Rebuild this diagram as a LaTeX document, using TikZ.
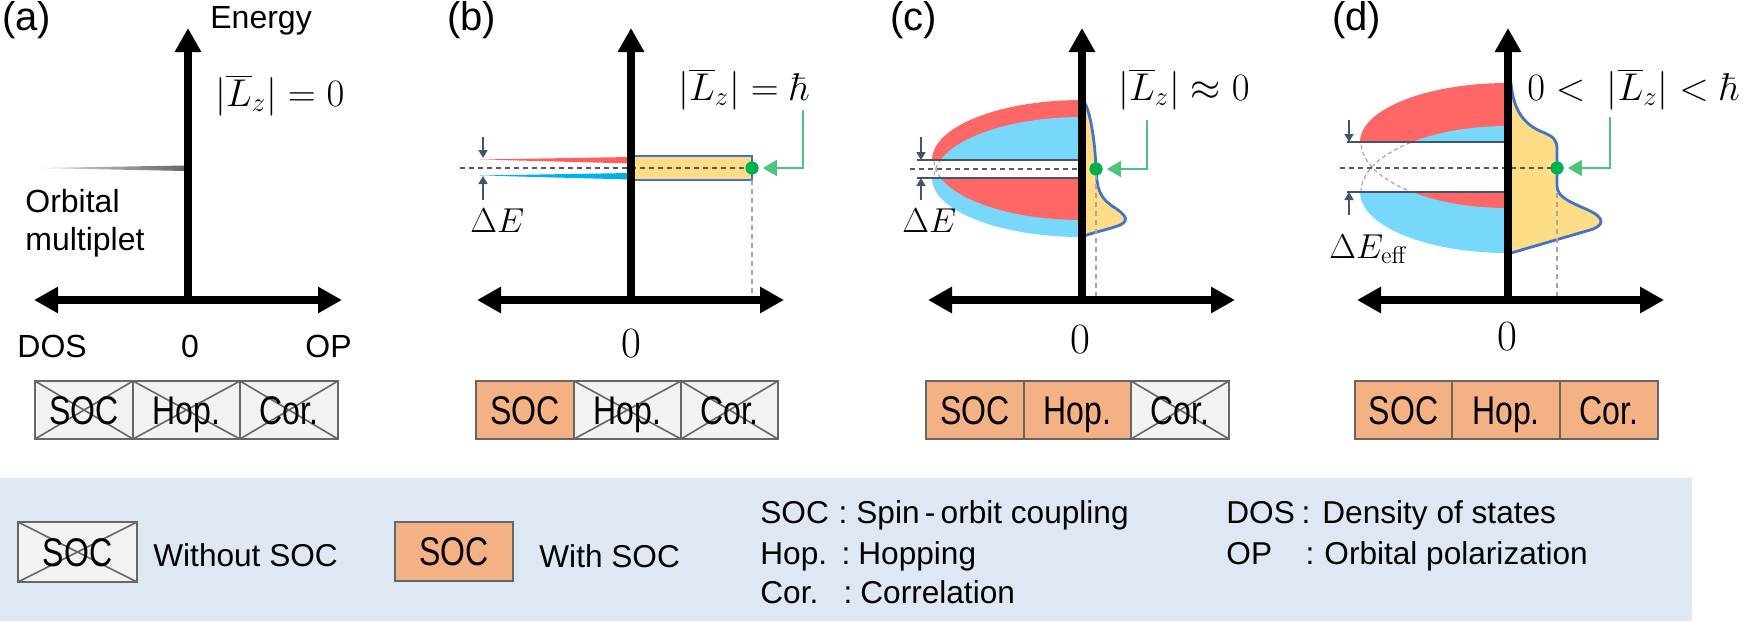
\documentclass[tikz,border=0pt]{standalone}
\usepackage[no-math]{fontspec}
\setmainfont{Liberation Sans}
\usetikzlibrary{arrows.meta}
\definecolor{redband}{HTML}{FF6767}
\definecolor{blueband}{HTML}{77D8FC}
\definecolor{redw}{HTML}{FF5F5F}
\definecolor{bluew}{HTML}{00B0F0}
\definecolor{yel}{HTML}{FFDD87}
\definecolor{outl}{HTML}{4472C4}
\definecolor{gdot}{HTML}{00B050}
\definecolor{garr}{HTML}{4CC47C}
\definecolor{slate}{HTML}{44546A}
\definecolor{socor}{HTML}{F4B183}
\definecolor{offg}{HTML}{F2F2F2}
\definecolor{bord}{HTML}{666666}
\definecolor{legbg}{HTML}{DEE8F4}
\definecolor{dgray}{HTML}{595959}
\definecolor{lgray}{HTML}{A6A6A6}
\newcommand\bx[1]{\scalebox{0.8}[1]{#1}}
\newcommand\mscale[1]{\scalebox{1.12}{#1}}
\tikzset{
  axisline/.style={line width=3.7pt,{Triangle[length=12pt,width=12.5pt]}-{Triangle[length=12pt,width=12.5pt]}},
  axisup/.style={line width=3.7pt,-{Triangle[length=12pt,width=12.5pt]}},
  txt/.style={inner sep=0pt,font=\fontsize{16}{19}\selectfont},
  legtxt/.style={inner sep=0pt,font=\fontsize{15.8}{19}\selectfont},
  plabel/.style={inner sep=0pt,font=\fontsize{20}{24}\selectfont,anchor=base west},
  mth/.style={inner sep=0pt,font=\fontsize{18}{22}\selectfont,anchor=base west},
  cell/.style={draw=bord,line width=1pt,minimum height=29pt,inner sep=0pt,
     text height=14.3pt,text depth=0pt,font=\fontsize{20}{22}\selectfont},
  oncell/.style={cell,fill=socor},
  offcell/.style={cell,fill=offg,path picture={\draw[bord,line width=0.8pt]
     (path picture bounding box.north west) -- (path picture bounding box.south east)
     (path picture bounding box.south west) -- (path picture bounding box.north east);}},
  ctr/.style={dgray,line width=0.75pt,dash pattern=on 2.5pt off 2pt},
  vdash/.style={lgray,line width=0.75pt,dash pattern=on 2.5pt off 2pt},
  gdotst/.style={circle,fill=gdot,inner sep=0pt,minimum size=6.5pt},
  garrow/.style={garr,line width=1pt,-{Triangle[length=7pt,width=8pt]},shorten >=2pt},
  darrow/.style={slate,line width=0.8pt,-{Triangle[length=4pt,width=4.5pt]}},
  lvl/.style={slate,line width=0.9pt},
  curve/.style={outl,line width=1.4pt},
  curvedash/.style={lgray,line width=0.6pt,dash pattern=on 2pt off 1.5pt}
}
\begin{document}
\begin{tikzpicture}[x=0.5pt,y=-0.5pt]
\useasboundingbox (0,0) rectangle (1749,621);

% ---------------- legend background
\fill[legbg] (0,478) rectangle (1692,621);

% ---------------- panel (a)
\node[plabel] (la) at (2,30) {(a)};
\node[txt,anchor=base west] (energy) at (210,28) {Energy};
\shade[left color=black!12,right color=black!60] (37,168) -- (186,165.5) -- (186,171) -- cycle;
\node[txt,anchor=base west] (orb1) at (25,212) {Orbital};
\node[txt,anchor=base west] (orb2) at (25,250) {multiplet};
\node[mth] (Lza) at (215,106) {\mscale{$|\overline{L}_z| = 0$}};
\draw[axisline] (34,300) -- (342,300);
\draw[axisup] (188,303) -- (188,28);
\node[txt,anchor=base west] (dos) at (17,357) {DOS};
\node[txt,anchor=base] (zeroa) at (190,357) {0};
\node[txt,anchor=base west] (op) at (305,357) {OP};
\node[offcell,minimum width=49pt] (a1) at (84,410) {\bx{SOC}};
\node[offcell,minimum width=53.5pt] (a2) at (186.5,410) {\bx{Hop.}};
\node[offcell,minimum width=49pt] (a3) at (289,410) {\bx{Cor.}};

% ---------------- panel (b)
\node[plabel] (lb) at (447,30) {(b)};
\fill[redw] (480,159.5) -- (631,157) -- (631,163.5) -- cycle;
\fill[bluew] (480,175.5) -- (631,173) -- (631,179.5) -- cycle;
\filldraw[fill=yel,draw=outl,line width=0.7pt] (631,156) rectangle (752,180);
\node[gdotst] (dotb) at (752,168) {};
\draw[ctr] (460,168) -- (dotb.center);
\draw[vdash] (752,180) -- (752,298);
\draw[axisline] (477,300) -- (784,300);
\draw[axisup] (631,303) -- (631,28);
\node[gdotst] at (dotb) {};
\coordinate (gb) at (803,110);
\draw[garrow] (gb) |- (dotb.east);
\draw[darrow] (483,137) -- (483,158);
\draw[darrow] (483,200) -- (483,176);
\node[mth,anchor=base west] (dEb) at (470,232) {$\Delta E$};
\node[mth] (Lzb) at (678,100) {\mscale{$|\overline{L}_z| = \hbar$}};
\node[mth,anchor=base] (zerob) at (631,357) {\scalebox{1.25}{$0$}};
\node[oncell,minimum width=49pt] (b1) at (525,410) {\bx{SOC}};
\node[offcell,minimum width=53.5pt] (b2) at (627.5,410) {\bx{Hop.}};
\node[offcell,minimum width=48.5pt] (b3) at (729.5,410) {\bx{Cor.}};

% ---------------- panel (c)
\node[plabel] (lc) at (890,30) {(c)};
\begin{scope}
  \clip (900,60) rectangle (1082,160);
  \fill[redband] (1082,160) ellipse [x radius=75pt,y radius=30pt];
  \fill[blueband] (1082,178) ellipse [x radius=74pt,y radius=30.5pt];
\end{scope}
\begin{scope}
  \clip (900,178) rectangle (1082,270);
  \fill[blueband] (1082,178) ellipse [x radius=75pt,y radius=29.5pt];
  \fill[redband] (1082,160) ellipse [x radius=74pt,y radius=30pt];
\end{scope}
\begin{scope}
  \clip (900,160) rectangle (1082,178);
  \draw[curvedash] (1082,178) ellipse [x radius=74pt,y radius=30.5pt];
  \draw[curvedash] (1082,160) ellipse [x radius=74pt,y radius=30pt];
\end{scope}
\fill[yel] (1082,102) .. controls (1090,110) and (1095,140) .. (1096,169)
   .. controls (1097,190) and (1100,197) .. (1112,206)
   .. controls (1122,212) and (1132,220) .. (1120,225)
   .. controls (1110,229) and (1095,232) .. (1082,236) -- cycle;
\draw[curve] (1084,102) .. controls (1090,110) and (1095,140) .. (1096,169)
   .. controls (1097,190) and (1100,197) .. (1112,206)
   .. controls (1122,212) and (1132,220) .. (1120,225)
   .. controls (1110,229) and (1095,232) .. (1084,236);
\draw[lvl] (917,160) -- (1082,160);
\draw[lvl] (917,178) -- (1082,178);
\node[gdotst] (dotc) at (1096,169) {};
\draw[ctr] (910,169) -- (dotc.center);
\draw[vdash] (1096,175) -- (1096,298);
\draw[axisline] (928,300) -- (1235,300);
\draw[axisup] (1082,303) -- (1082,28);
\node[gdotst] at (dotc) {};
\coordinate (gc) at (1147,120);
\draw[garrow] (gc) |- (dotc.east);
\draw[darrow] (921,137) -- (921,160);
\draw[darrow] (921,200) -- (921,178);
\node[mth,anchor=base west] (dEc) at (902,232) {$\Delta E$};
\node[mth] (Lzc) at (1118,100) {\mscale{$|\overline{L}_z| \approx 0$}};
\node[mth,anchor=base] (zeroc) at (1080,353) {\scalebox{1.25}{$0$}};
\node[oncell,minimum width=49pt] (c1) at (975,410) {\bx{SOC}};
\node[oncell,minimum width=53.5pt] (c2) at (1077.5,410) {\bx{Hop.}};
\node[offcell,minimum width=49pt] (c3) at (1180,410) {\bx{Cor.}};

% ---------------- panel (d)
\node[plabel] (ld) at (1332,30) {(d)};
\begin{scope}
  \clip (1330,40) rectangle (1508,142);
  \fill[redband] (1508,142) ellipse [x radius=74pt,y radius=29.5pt];
  \fill[blueband] (1508,192) ellipse [x radius=73.5pt,y radius=33pt];
\end{scope}
\begin{scope}
  \clip (1330,192) rectangle (1508,290);
  \fill[blueband] (1508,192) ellipse [x radius=74pt,y radius=30.5pt];
  \fill[redband] (1508,142) ellipse [x radius=73.5pt,y radius=33pt];
\end{scope}
\begin{scope}
  \clip (1330,142) rectangle (1508,192);
  \draw[curvedash] (1508,192) ellipse [x radius=73.5pt,y radius=33pt];
  \draw[curvedash] (1508,142) ellipse [x radius=73.5pt,y radius=33pt];
\end{scope}
\fill[yel] (1508,83) .. controls (1513,105) and (1520,122) .. (1540,131)
   .. controls (1555,137) and (1557,140) .. (1557,150) -- (1557,186)
   .. controls (1557,197) and (1570,202) .. (1588,210)
   .. controls (1606,218) and (1604,226) .. (1590,230) -- (1508,254) -- cycle;
\draw[curve] (1511,83) .. controls (1513,105) and (1520,122) .. (1540,131)
   .. controls (1555,137) and (1557,140) .. (1557,150) -- (1557,186)
   .. controls (1557,197) and (1570,202) .. (1588,210)
   .. controls (1606,218) and (1604,226) .. (1590,230) -- (1511,253);
\draw[lvl] (1347,142) -- (1508,142);
\draw[lvl] (1347,192) -- (1508,192);
\node[gdotst] (dotd) at (1557,168) {};
\draw[ctr] (1340,168) -- (dotd.center);
\draw[vdash] (1557,193) -- (1557,298);
\draw[axisline] (1357,300) -- (1664,300);
\draw[axisup] (1508,303) -- (1508,28);
\node[gdotst] at (dotd) {};
\coordinate (gd) at (1610,117);
\draw[garrow] (gd) |- (dotd.east);
\draw[darrow] (1349,120) -- (1349,142);
\draw[darrow] (1349,215) -- (1349,192);
\node[mth,anchor=base west] (dEd) at (1329,258) {$\Delta E_{\mathrm{eff}}$};
\node[mth] (Lzd) at (1527,100) {\mscale{$0 <\; |\overline{L}_z| < \hbar$}};
\node[mth,anchor=base] (zerod) at (1507,350) {\scalebox{1.25}{$0$}};
\node[oncell,minimum width=48.5pt] (d1) at (1403.5,410) {\bx{SOC}};
\node[oncell,minimum width=54pt] (d2) at (1506,410) {\bx{Hop.}};
\node[oncell,minimum width=49pt] (d3) at (1609,410) {\bx{Cor.}};

% ---------------- legend
\node[offcell,minimum width=59.5pt,minimum height=30pt] (lg1) at (77.5,552) {\bx{SOC}};
\node[legtxt,anchor=base west] (lg1t) at (153,566) {Without SOC};
\node[oncell,minimum width=59pt,minimum height=29.5pt] (lg2) at (454,551.5) {\bx{SOC}};
\node[legtxt,anchor=base west] (lg2t) at (539,567) {With SOC};

\node[legtxt,anchor=base west] (k1) at (760,523) {SOC};
\node[legtxt,anchor=base] (k1c) at (843,523) {:};
\node[legtxt,anchor=base west] (k1d) at (856,523) {Spin\,-\,orbit coupling};
\node[legtxt,anchor=base west] (k2) at (760,564) {Hop.};
\node[legtxt,anchor=base] (k2c) at (846,564) {:};
\node[legtxt,anchor=base west] (k2d) at (858,564) {Hopping};
\node[legtxt,anchor=base west] (k3) at (760,603) {Cor.};
\node[legtxt,anchor=base] (k3c) at (848,603) {:};
\node[legtxt,anchor=base west] (k3d) at (860,603) {Correlation};

\node[legtxt,anchor=base west] (k4) at (1226,523) {DOS};
\node[legtxt,anchor=base] (k4c) at (1306,523) {:};
\node[legtxt,anchor=base west] (k4d) at (1322,523) {Density of states};
\node[legtxt,anchor=base west] (k5) at (1226,564) {OP};
\node[legtxt,anchor=base] (k5c) at (1310,564) {:};
\node[legtxt,anchor=base west] (k5d) at (1324,564) {Orbital polarization};
\end{tikzpicture}
\end{document}
